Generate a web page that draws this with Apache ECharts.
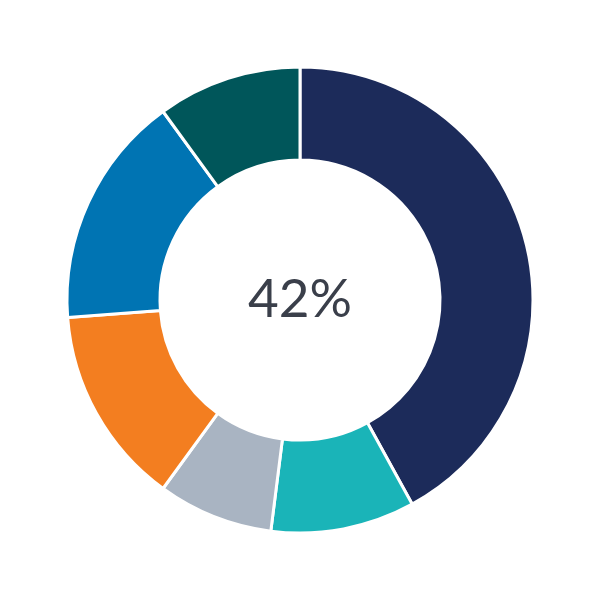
<!DOCTYPE html>
<html><head><meta charset="utf-8">
<script src="https://cdn.jsdelivr.net/npm/echarts@6/dist/echarts.min.js"></script>
<style>html,body{margin:0;padding:0;background:#fff}#c{width:600px;height:600px}</style>
</head><body><div id="c"></div>
<script>
const categories = ['A','B','C','D','E','F'];
const values = [42, 10, 8, 13.8, 16.2, 10];
const colors = ['#1c2b5a', '#1ab4b8', '#a9b4c2', '#f37e20', '#0074b3', '#00565a'];
const centerLabel = '42%';
const chart = echarts.init(document.getElementById('c'));
chart.setOption({
  animation: false,
  graphic: [{
    type: 'text', left: 'center', top: 'middle',
    style: { text: centerLabel, fontSize: 53, fontFamily: 'Lato', fontWeight: 400, fill: '#3a3f4a' }
  }],
  series: [{
    type: 'pie',
    center: ['50%', '50%'],
    radius: [140, 233],
    startAngle: 90,
    clockwise: true,
    label: { show: false },
    labelLine: { show: false },
    itemStyle: { borderColor: '#fff', borderWidth: 3 },
    data: categories.map((c, i) => ({ name: c, value: values[i], itemStyle: { color: colors[i] } }))
  }]
});
</script></body></html>
